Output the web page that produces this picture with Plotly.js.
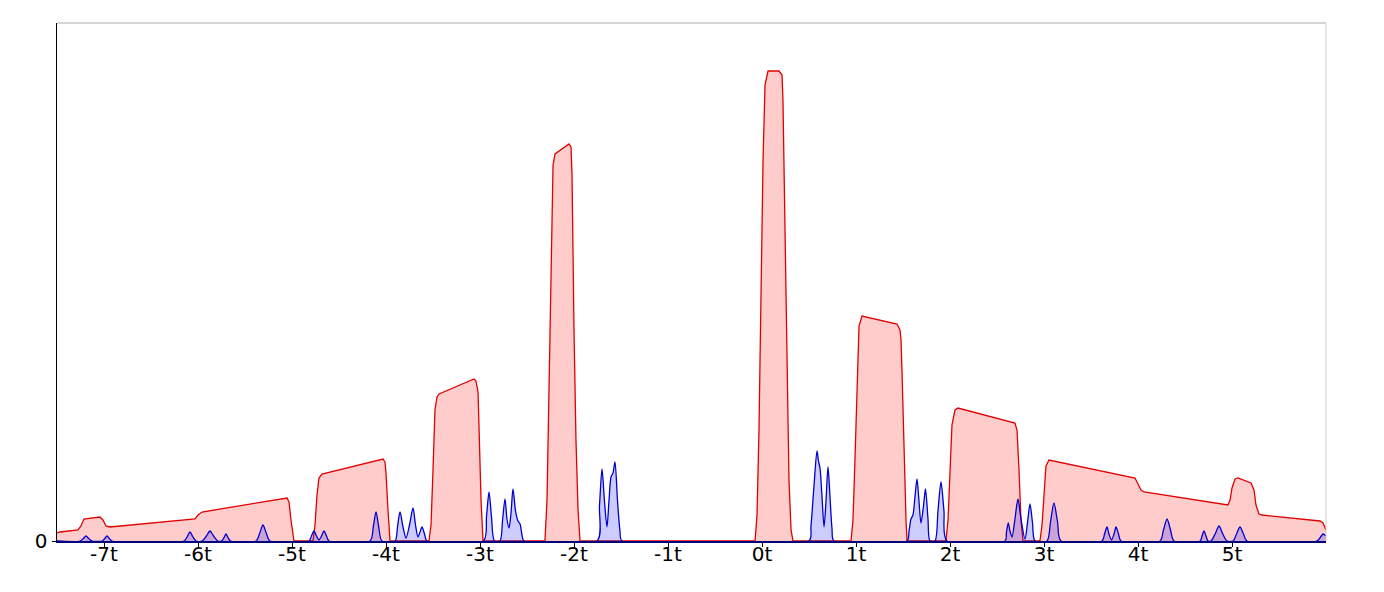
<!DOCTYPE html>
<html>
<head>
<meta charset="utf-8">
<script src="https://cdn.plot.ly/plotly-3.0.1.min.js"></script>
<style>
html,body{margin:0;padding:0;background:#fff;}
#chart{width:1384px;height:592px;}
</style>
</head>
<body>
<div id="chart"></div>
<script>
// Red (envelope) series
var redX = [-7.500,-7.468,-7.277,-7.245,-7.213,-7.149,-7.043,-7.011,-6.979,-6.936,
  -6.032,-6.000,-5.957,-5.053,-5.032,-5.011,-4.989,-4.979,
  -4.777,-4.755,-4.734,-4.713,-4.681,-4.032,-4.011,-4.000,-3.979,-3.957,
  -3.543,-3.521,-3.500,-3.479,-3.457,-3.436,-3.064,-3.043,-3.021,-3.011,-2.989,-2.968,
  -2.309,-2.287,-2.266,-2.245,-2.234,-2.223,-2.202,-2.053,-2.032,-2.021,-2.000,-1.979,-1.957,-1.936,
  -0.074,-0.053,-0.032,-0.011,0.011,0.032,0.064,0.181,0.213,0.223,0.245,0.266,0.287,0.309,0.330,
  0.947,0.968,0.989,1.011,1.032,1.064,1.436,1.468,1.479,1.489,1.511,1.532,1.543,
  1.957,1.979,2.000,2.021,2.053,2.085,2.691,2.713,2.734,2.755,2.777,
  2.957,2.979,3.000,3.021,3.053,3.968,4.000,4.032,4.064,4.957,4.979,5.000,5.032,5.064,
  5.202,5.234,5.255,5.287,5.319,5.936,5.968,6.000];
var redY = [8,9,11,15,22,23,24,21,15,14,
  22,26,29,43,39,21,5,0,
  0,16,46,63,67,82,79,68,31,0,
  0,16,71,131,144,147,162,160,149,111,41,0,
  0,41,141,241,321,376,387,397,394,366,211,101,31,0,
  0,26,111,241,381,456,470,470,466,441,311,161,61,11,0,
  0,21,81,161,215,225,217,211,201,171,81,21,0,
  0,21,71,116,131,133,118,111,71,21,0,
  0,16,51,75,81,63,57,51,49,36,41,53,62,63,
  58,51,36,27,26,20,18,11];

// Blue (peaks) series
var blueX = [-7.500,
  -7.255,-7.220,-7.191,-7.163,-7.128,
  -7.021,-6.992,-6.968,-6.944,-6.915,
  -6.149,-6.114,-6.085,-6.056,-6.021,
  -5.957,-5.911,-5.872,-5.834,-5.787,
  -5.750,-5.723,-5.702,-5.681,-5.654,
  -5.383,-5.343,-5.309,-5.274,-5.234,
  -4.819,-4.793,-4.766,-4.739,-4.713,-4.686,-4.660,-4.633,-4.606,
  -4.170,-4.135,-4.106,-4.078,-4.043,
  -3.904,-3.878,-3.851,-3.819,-3.787,-3.750,-3.713,-3.686,-3.660,-3.638,-3.617,-3.590,-3.564,
  -2.963,-2.931,-2.904,-2.878,-2.846,
  -2.787,-2.761,-2.734,-2.713,-2.691,-2.670,-2.649,-2.622,-2.596,-2.574,-2.553,-2.532,
  -1.755,-1.729,-1.702,-1.676,-1.649,-1.628,-1.606,-1.585,-1.564,-1.537,-1.511,-1.489,
  0.500,0.521,0.553,0.585,0.601,0.617,0.638,0.660,0.681,0.702,0.723,0.745,0.766,
  1.543,1.564,1.585,1.606,1.628,1.649,1.670,1.691,1.718,1.739,1.766,1.787,
  1.840,1.872,1.904,1.936,1.968,
  2.585,2.601,2.620,2.638,2.660,2.691,2.723,2.755,2.798,2.824,2.851,2.878,2.904,
  3.032,3.069,3.106,3.144,3.181,
  3.617,3.644,3.670,3.691,3.718,3.745,3.766,3.793,3.819,
  4.234,4.271,4.309,4.346,4.383,
  4.660,4.681,4.702,4.723,4.745,
  4.777,4.823,4.862,4.900,4.947,
  5.011,5.048,5.085,5.122,5.160,
  5.904,5.939,5.968,6.000];
var blueY = [0,
  0,2.5,5,2.5,0,
  0,2.5,5,2.5,0,
  0,4.5,9,4.5,0,
  0,5,10,5,0,
  0,3.5,7,3.5,0,
  0,8,16,8,0,
  0,5,10,5,1,5,10,5,0,
  0,14.5,29,14.5,0,
  0,14,29,14,3,16,33,16,4,9,14,7,0,
  0,24.5,49,24.5,0,
  0,20,42,22,13,28,52,30,20,17,6,0,
  0,35,72,40,14,40,64,68,79,40,10,0,
  0,15,55,90,80,73,45,14,40,74,45,12,0,
  0,10,22,26,45,62,40,18,35,52,22,0,
  0,30,59,30,0,
  0,9,18,10,4,22,42,22,2,18,37,18,0,
  0,19,38,19,0,
  0,7,14,7,1,7,14,7,0,
  0,11,22,11,0,
  0,5,10,5,0,
  0,7.5,15,7.5,0,
  0,7,14,7,0,
  0,3.5,7,5];

var tickVals = [-7,-6,-5,-4,-3,-2,-1,0,1,2,3,4,5];
var tickLabels = ['-7t','-6t','-5t','-4t','-3t','-2t','-1t','0t','1t','2t','3t','4t','5t'];
var yTickVals = [0];
var yTickLabels = ['0'];

var traces = [
  {x: redX, y: redY, type: 'scatter', mode: 'lines', fill: 'tozeroy',
   line: {color: '#e00000', width: 1.3, shape: 'linear'},
   fillcolor: 'rgba(255,0,0,0.2)', hoverinfo: 'skip'},
  {x: blueX, y: blueY, type: 'scatter', mode: 'lines', fill: 'tozeroy',
   line: {color: '#0000cc', width: 1.3, shape: 'spline', smoothing: 0.8},
   fillcolor: 'rgba(0,0,255,0.2)', hoverinfo: 'skip'}
];

var layout = {
  width: 1384, height: 592,
  margin: {l: 57, r: 58, t: 23, b: 51, pad: 0},
  paper_bgcolor: '#ffffff', plot_bgcolor: '#ffffff',
  showlegend: false,
  font: {family: 'DejaVu Sans', size: 20, color: '#000'},
  xaxis: {range: [-7.5, 6], tickvals: tickVals, ticktext: tickLabels,
    showgrid: false, zeroline: false, showline: true, linecolor: '#00007a', linewidth: 1.5,
    ticks: 'outside', ticklen: 4, tickcolor: '#000', tickwidth: 1,
    ticklabelstandoff: -10,
    tickfont: {family: 'DejaVu Sans', size: 20, color: '#000'}},
  yaxis: {range: [0, 518], tickvals: yTickVals, ticktext: yTickLabels,
    showgrid: false, zeroline: false, showline: true, linecolor: '#000', linewidth: 1.5,
    ticks: 'outside', ticklen: 4, tickcolor: '#000',
    tickfont: {family: 'DejaVu Sans', size: 20, color: '#000'}},
  shapes: [
    {type: 'line', xref: 'paper', yref: 'paper', x0: 0, x1: 1, y0: 1, y1: 1,
     line: {color: '#aaaaaa', width: 1}},
    {type: 'line', xref: 'paper', yref: 'paper', x0: 1, x1: 1, y0: 0, y1: 1,
     line: {color: '#cccccc', width: 1}}
  ]
};

Plotly.newPlot('chart', traces, layout, {displayModeBar: false, staticPlot: true});
</script>
</body>
</html>
